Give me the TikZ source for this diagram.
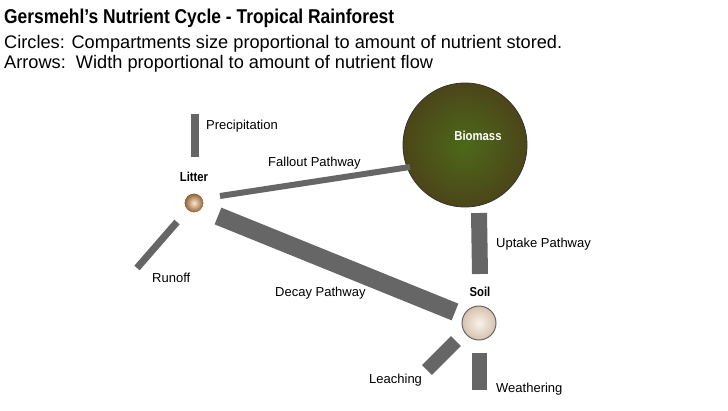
\documentclass[tikz,border=0pt]{standalone}
\usepackage{fontspec}
\setmainfont{Liberation Sans}
\newfontfamily\condfont[FakeStretch=0.87]{Liberation Sans}
\begin{document}
\begin{tikzpicture}[x=1pt,y=-1pt,
  flow/.style={draw=black!60,line cap=butt},
  lbl/.style={font=\fontsize{13}{14}\selectfont,anchor=west,inner sep=0pt},
  clab/.style={font=\condfont\bfseries\fontsize{13}{14}\selectfont,inner sep=0pt}]
\useasboundingbox (0,0) rectangle (728,410);
\node[anchor=west,inner sep=0pt,font=\condfont\bfseries\fontsize{20}{22}\selectfont] (title) at (4,18) {Gersmehl’s Nutrient Cycle - Tropical Rainforest};
\node[anchor=west,inner sep=0pt,font=\fontsize{18.2}{20}\selectfont] (l1) at (4,44) {Circles: Compartments size proportional to amount of nutrient stored.};
\node[anchor=west,inner sep=0pt,font=\fontsize{18.2}{20}\selectfont] (l2) at (4,64) {Arrows:\ \ Width proportional to amount of nutrient flow};
% compartments
\node[circle,minimum size=124pt,inner sep=0pt,draw=black!80,line width=0.8pt,inner color=black!65!green!60!brown,outer color=black!88!green!60!brown] (bio) at (465,145) {};
\node[clab,text=white] (biot) at (478,136) {Biomass};
\node[circle,minimum size=20pt,inner sep=0pt,draw=white,line width=1pt,inner color=white!80!orange,outer color=brown!70!black] (lit) at (194,203) {};
\node[clab] (litt) at (194,177) {Litter};
\node[circle,minimum size=34pt,inner sep=0pt,draw=black!60,line width=1pt,inner color=white!90!brown,outer color=black!20!brown!40] (soil) at (479,323) {};
\node[clab] (soilt) at (480,292) {Soil};
% flow end points
\coordinate (p1) at (195,114); \coordinate (p2) at (195,157);
\coordinate (f1) at (410,167); \coordinate (f2) at (220,196);
\coordinate (d1) at (218,216); \coordinate (d2) at (455,312);
\coordinate (u1) at (479,213); \coordinate (u2) at (480,274);
\coordinate (r1) at (177,222); \coordinate (r2) at (137,268);
\coordinate (le1) at (456,341); \coordinate (le2) at (427,370);
\coordinate (w1) at (479,353); \coordinate (w2) at (479,390);
\draw[flow,line width=8pt] (p1) -- (p2);
\draw[flow,line width=6pt] (f1) -- (f2);
\draw[flow,line width=18pt] (d1) -- (d2);
\draw[flow,line width=16pt] (u1) -- (u2);
\draw[flow,line width=7pt] (r1) -- (r2);
\draw[flow,line width=14pt] (le1) -- (le2);
\draw[flow,line width=15pt] (w1) -- (w2);
% labels
\node[lbl] at (206,126) {Precipitation};
\node[lbl] at (268,163) {Fallout Pathway};
\node[lbl] at (496,244) {Uptake Pathway};
\node[lbl] at (152,278) {Runoff};
\node[lbl] at (275,293) {Decay Pathway};
\node[lbl] at (369,380) {Leaching};
\node[lbl] at (496,389) {Weathering};
\end{tikzpicture}
\end{document}
